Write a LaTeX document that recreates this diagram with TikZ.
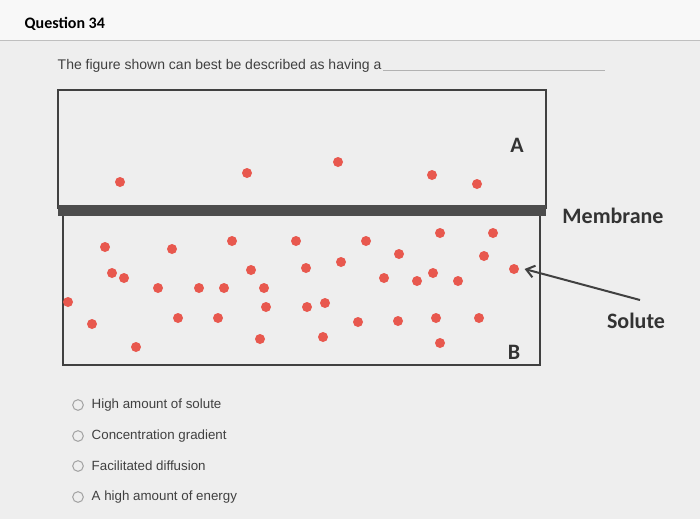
\documentclass[tikz,border=0pt]{standalone}
\usepackage{fontspec}
\setmainfont{Liberation Sans}
\newfontfamily\hdr{Carlito}
\usetikzlibrary{arrows.meta}
\begin{document}
\begin{tikzpicture}[x=0.75pt,y=-0.75pt,
  dot/.style={circle,fill=dotred,inner sep=0pt,minimum size=7.5pt},
  opt/.style={circle,draw=gray!70,line width=0.8pt,inner sep=0pt,minimum size=8pt},
  opttext/.style={anchor=west,font=\fontsize{10}{12}\selectfont,text=black!75},
  lbl/.style={font=\hdr\bfseries\fontsize{16.5}{19}\selectfont,text=black!80}]
\definecolor{dotred}{RGB}{232,88,78}
\definecolor{bg}{RGB}{238,238,238}
\fill[bg] (0,0) rectangle (700,519);
\useasboundingbox (0,0) rectangle (700,519);
\fill[white!60!bg] (0,0) rectangle (700,40);
\draw[gray!50] (0,40) -- (700,40);
\node[anchor=west,font=\hdr\bfseries\fontsize{12}{14}\selectfont] (q) at (20,24) {Question 34};
\node[anchor=west,font=\fontsize{10.5}{12}\selectfont,text=black!75] (stem) at (53,66) {The figure shown can best be described as having a};
\draw[gray!60] (383,70) -- (605,70);
% boxes
\draw[black!75,line width=2pt] (58,90) rectangle (546,208);
\draw[black!75,line width=2pt] (63,214) rectangle (540,365);
\fill[black!70] (58,205) rectangle (546,216);
\node[lbl] (A) at (517,145) {A};
\node[lbl] (B) at (514,352) {B};
\node[lbl] (mem) at (613,216) {Membrane};
\node[lbl] (sol) at (636,321) {Solute};
\coordinate (tail) at (640,300);
% dots
\foreach \x/\y [count=\i] in {120/182,247/173,338/162,432/175,477/184,
105/247,172/249,232/241,296/241,366/241,440/233,493/233,112/273,124/278,158/288,199/288,224/288,251/270,264/288,306/268,341/262,399/254,484/256,514/269,384/278,417/281,433/273,458/281,266/307,307/307,325/303,68/302,92/324,178/318,218/318,358/322,398/321,436/318,479/318,136/347,260/339,323/337,440/343}
  \node[dot] (d\i) at (\x,\y) {};
\draw[black!75,line width=1.5pt,-{Straight Barb[length=6pt,width=9pt]}] (tail) -- ([xshift=4pt]d24.east);
% options
\foreach \y/\t [count=\i] in {405/High amount of solute,436/Concentration gradient,466/Facilitated diffusion,497/A high amount of energy}{
  \node[opt] (o\i) at (78,\y) {};
  \node[opttext] (t\i) at (87,\y) {\t};
}
\end{tikzpicture}
\end{document}
